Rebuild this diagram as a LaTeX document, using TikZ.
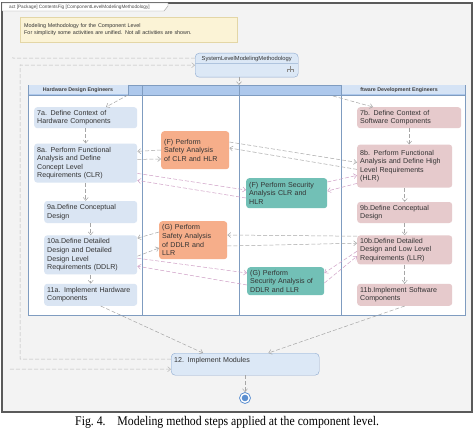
\documentclass[tikz,border=0pt]{standalone}
\usepackage{fontspec}
\setmainfont{Liberation Serif}
\newfontfamily\arialfont{Liberation Sans}
\usetikzlibrary{arrows.meta,positioning}
\definecolor{frameFill}{HTML}{F3F3F3}
\definecolor{frameDraw}{HTML}{5A5A5A}
\definecolor{noteFill}{HTML}{FBF3D6}
\definecolor{noteDraw}{HTML}{E3D6A6}
\definecolor{laneLine}{HTML}{7F9CC0}
\definecolor{laneHead}{HTML}{ADC8EC}
\definecolor{laneCell}{HTML}{D5E3F5}
\definecolor{hwFill}{HTML}{DAE5F3}
\definecolor{swFill}{HTML}{E6CACC}
\definecolor{safFill}{HTML}{F6AE8A}
\definecolor{secFill}{HTML}{72C0B6}
\definecolor{implFill}{HTML}{DCE8F6}
\definecolor{implDraw}{HTML}{8DAAD0}
\definecolor{pilGray}{HTML}{A6A6A6}
\definecolor{secPink}{HTML}{CF9FC6}
\definecolor{finalBlue}{HTML}{5B8FD0}
\tikzset{
    >={Straight Barb[length=3pt,width=5pt]},
    punkt/.style={
           rectangle,
           rounded corners=3pt,
           anchor=north west,
           inner xsep=3pt,
           inner ysep=2pt,
           align=left,
           text=black!80,
           font=\arialfont\fontsize{7.1}{8.6}\selectfont},
    hwPunkt/.style={punkt, fill=hwFill, text width=97pt},
    hwSmall/.style={punkt, fill=hwFill, text width=87pt},
    swPunkt/.style={punkt, fill=swFill, text width=89pt},
    safPunkt/.style={punkt, fill=safFill, text width=62pt, minimum height=38pt},
    secPunkt/.style={punkt, fill=secFill},
    laneTitel/.style={font=\arialfont\bfseries\fontsize{5.3}{6}\selectfont, text=black!75, inner sep=0pt},
    pil/.style={
           ->,
           draw=pilGray,
           line width=0.5pt,
           dash pattern=on 4pt off 2pt},
    secPil/.style={pil, draw=secPink},
    loopPil/.style={pil, draw=pilGray!80}
}
\begin{document}
\begin{tikzpicture}[x=1pt, y=-1pt]
	\useasboundingbox (0,0) rectangle (474,433);
	% frame and note
	\draw[draw=frameDraw, fill=frameFill, line width=1.5pt] (2,3) rectangle (472,412);
	\draw[draw=frameDraw!60, fill=white, line width=0.4pt] (2,3) -- (168,3) -- (168,6) -- (164,11) -- (2,11) -- cycle;
	\node[anchor=west, inner sep=0pt, text=black!70, font=\arialfont\fontsize{4.7}{5}\selectfont] (tab) at (9,7) {act [Package] ContentsFig [ComponentLevelModelingMethodology]};
	\node[anchor=north west, draw=noteDraw, fill=noteFill, text width=209pt, minimum height=25pt, inner xsep=4pt, inner ysep=3pt, align=left, text=black!80, font=\arialfont\fontsize{5.4}{7.6}\selectfont] (note) at (20,17) {Modeling Methodology for the Component Level\\For simplicity some activities are unified. Not all activities are shown.};
	% swimlanes
	\draw[draw=laneLine, fill=white, line width=0.7pt] (28,85) rectangle (465,315);
	\draw[draw=laneLine, fill=laneHead, line width=0.7pt] (28,85) rectangle (465,95);
	\fill[laneCell] (28.5,85.5) rectangle (128,94.5);
	\fill[laneCell] (341,85.5) rectangle (464.5,94.5);
	\draw[laneLine, line width=0.4pt] (128,85) -- (128,95);
	\foreach \x in {142,239,341}
		\draw[laneLine, line width=0.7pt] (\x,85) -- (\x,315);
	\node[laneTitel] (hwLane) at (78,90) {Hardware Design Engineers};
	\node[laneTitel] (swLane) at (399,90) {ftware Development Engineers};

	\node[anchor=north west, draw=implDraw, fill=implFill, rounded corners=4pt, minimum width=103pt, minimum height=24pt] (slmm) at (195,53) {};
	\node[anchor=north, inner sep=0pt, text=black!80, font=\arialfont\fontsize{5.8}{6}\selectfont] (slmmTitel) at ([yshift=-3pt]slmm.north) {SystemLevelModelingMethodology};
	\draw[implDraw!70, line width=0.2pt] (slmm.west |- 0,63) -- (slmm.east |- 0,63);
	\draw[black!45, line width=0.4pt] (290,66) -- (290,72) (287,69) -- (293,69) (287,69) -- (287,72) (293,69) -- (293,72);

	\node[hwPunkt, minimum height=21pt] (hw7) at (34,107) {7a. Define Context of\\Hardware Components};
	\node[hwPunkt, minimum height=39pt, below=15pt of hw7.south west, anchor=north west] (hw8) {8a. Perform Functional\\Analysis and Define\\Concept Level\\Requirements (CLR)};
	\node[hwSmall, minimum height=22pt, below=18pt of hw8.south east, anchor=north east] (hw9) {9a.Define Conceptual\\Design};
	\node[hwSmall, minimum height=39pt, below=12pt of hw9.south east, anchor=north east] (hw10) {10a.Define Detailed\\Design and Detailed\\Design Level\\Requirements (DDLR)};
	\node[hwSmall, minimum height=22pt, below=9pt of hw10.south east, anchor=north east] (hw11) {11a. Implement Hardware\\Components};

	\node[swPunkt, text width=98pt, minimum height=21pt] (sw7) at (357,107) {7b. Define Context of\\Software Components};
	\node[swPunkt, minimum height=43pt, below=16pt of sw7.south west, anchor=north west] (sw8) {8b. Perform Functional\\Analysis and Define High\\Level Requirements\\(HLR)};
	\node[swPunkt, minimum height=21pt, below=14pt of sw8.south west, anchor=north west] (sw9) {9b.Define Conceptual\\Design};
	\node[swPunkt, minimum height=29pt, below=12pt of sw9.south west, anchor=north west] (sw10) {10b.Define Detailed\\Design and Low Level\\Requirements (LLR)};
	\node[swPunkt, minimum height=22pt, below=19pt of sw10.south west, anchor=north west] (sw11) {11b.Implement Software\\Components};

	\node[safPunkt] (safF) at (161,131) {(F) Perform\\Safety Analysis\\of CLR and HLR};
	\node[safPunkt] (safG) at (159,221) {(G) Perform\\Safety Analysis\\of DDLR and\\LLR};
	\node[secPunkt, text width=75pt, minimum height=30pt] (secF) at (246,178) {(F) Perform Security\\Analysis CLR and\\HLR};
	\node[secPunkt, text width=71pt, minimum height=28pt] (secG) at (247,267) {(G) Perform\\Security Analysis of\\DDLR and LLR};

	\node[punkt, draw=implDraw, fill=implFill, rounded corners=4pt, text width=142pt, text height=7pt, text depth=11pt] (impl) at (171,353) {12. Implement Modules};
	\node[circle, draw=finalBlue, fill=white, line width=0.8pt, minimum size=11pt, inner sep=0pt] (final) at (245,398) {};
	\fill[finalBlue] (final.center) circle (3.3pt);

	% flow
	\coordinate (laneIn) at (239,85);
	\coordinate (hwIn) at (128,95);
	\coordinate (swIn) at (333,96);
	\coordinate (loopCorner) at (20,65);
	\coordinate (slmmOut) at (12,58);
	\coordinate (implIn) at (10,369);
	\draw [pil] (slmm.south -| laneIn) -- (laneIn);
	\draw [pil] (hwIn) -- ([xshift=72pt]hw7.north west);
	\draw [pil] (swIn) -- ([xshift=16pt]sw7.north west);
	\draw [loopPil] ([yshift=5pt]impl.west) -| (loopCorner) -- (slmm.west);
	\draw [loopPil, -] ([yshift=7pt]slmm.west) -- (slmmOut);
	\draw [loopPil] (implIn) -- ([yshift=-5pt]impl.west);
	\foreach \a/\b in {hw7/hw8, hw8/hw9, hw9/hw10, hw10/hw11, sw7/sw8, sw8/sw9, sw9/sw10, sw10/sw11}
		\draw [pil] (\a.south) -- (\a.south |- \b.north);
	\draw [pil] ([xshift=10pt]hw11.south) -- ([xshift=32pt]impl.north west);
	\draw [pil] (sw11.south) -- ([xshift=-51pt]impl.north east);
	\draw [pil] (impl.south -| final) -- (final.north);

	\draw [pil] ([yshift=-19pt]safF.north west) -- ([yshift=-8pt]hw8.north east);
	\draw [pil] ([yshift=-16pt]hw8.north east) -- ([yshift=-28pt]safF.north west);
	\draw [pil] ([yshift=-11pt]safF.north east) -- ([yshift=-18pt]sw8.north west);
	\draw [pil] ([yshift=-25pt]sw8.north west) -- ([yshift=-17pt]safF.north east);
	\draw [secPil] ([yshift=-30pt]hw8.north east) -- ([yshift=-12pt]secF.north west);
	\draw [secPil] ([yshift=-20pt]secF.north west) -- ([yshift=-37pt]hw8.north east);
	\draw [secPil] ([yshift=-4pt]secF.north east) -- ([yshift=-31pt]sw8.north west);
	\draw [secPil] ([yshift=-39pt]sw8.north west) -- ([yshift=-13pt]secF.north east);

	\draw [pil] ([yshift=-11pt]safG.north west) -- ([yshift=-3pt]hw10.north east);
	\draw [pil] ([yshift=-21pt]hw10.north east) -- ([yshift=-27pt]safG.north west);
	\draw [pil] ([yshift=-1pt]sw10.north west) -- ([yshift=-14pt]safG.north east);
	\draw [pil] ([yshift=-25pt]safG.north east) -- ([yshift=-8pt]sw10.north west);
	\draw [secPil] ([yshift=-23pt]hw10.north east) -- ([yshift=-6pt]secG.north west);
	\draw [secPil] ([yshift=-18pt]secG.north west) -- ([yshift=-31pt]hw10.north east);
	\draw [secPil] ([yshift=-16pt]sw10.north west) -- ([yshift=-6pt]secG.north east);
	\draw [secPil] ([yshift=-16pt]secG.north east) -- ([yshift=-21pt]sw10.north west);

	\node[anchor=north west, inner sep=0pt, font=\fontsize{11.8}{13}\selectfont] (caption) at (75,416) {\scalebox{1}[1.12]{Fig.~4.\quad Modeling method steps applied at the component level.}};
\end{tikzpicture}
\end{document}
